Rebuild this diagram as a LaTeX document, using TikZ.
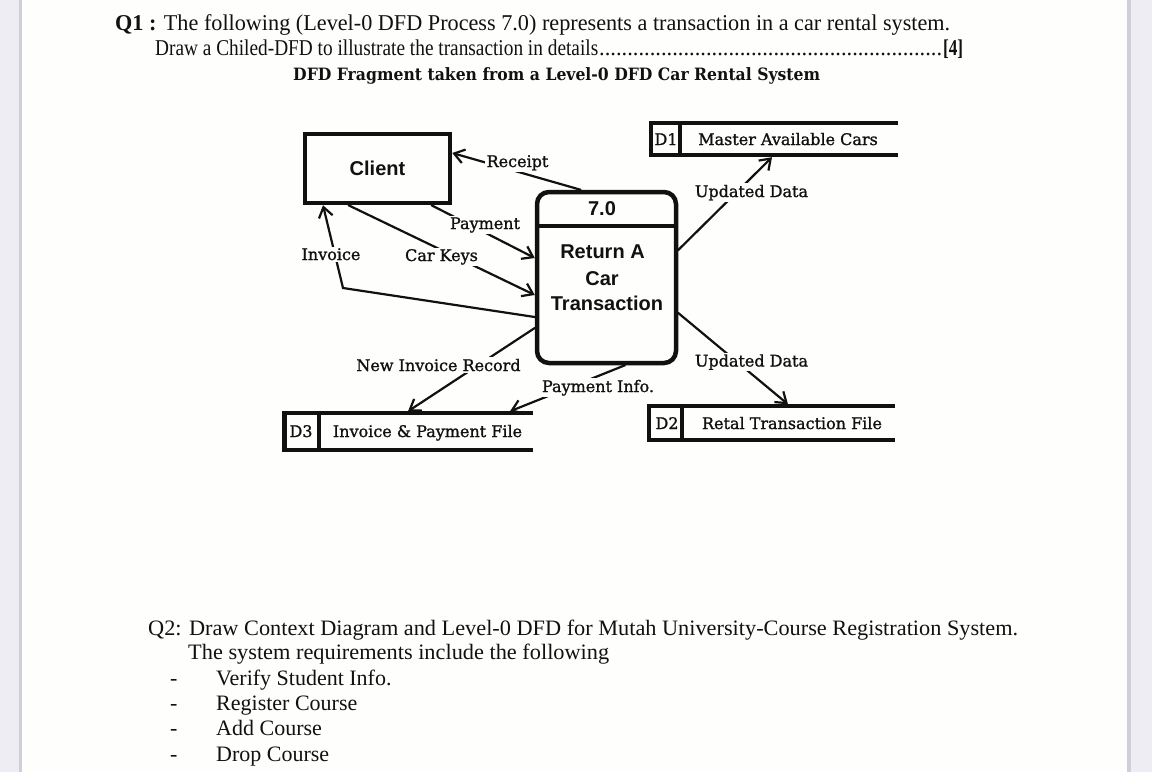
\documentclass[tikz,border=0pt]{standalone}
\usepackage{graphicx}
\usepackage{fontspec}
\setmainfont{Liberation Serif}
\setsansfont{Liberation Sans}
\newfontfamily\lblfont{DejaVu Serif}[FakeBold=1.2]
\newfontfamily\titlefont{DejaVu Serif}
\usetikzlibrary{arrows.meta,calc}
\definecolor{sidebg}{RGB}{238,237,244}
\definecolor{sideedge}{RGB}{208,206,216}
\definecolor{paper}{RGB}{254,254,252}
\definecolor{ink}{RGB}{17,17,17}
\newcommand\qfont{\fontsize{22.6}{25}\selectfont}
\newcommand\qtwofont{\fontsize{22}{25}\selectfont}
\newcommand\fitto[2]{\resizebox{#1}{\height}{#2}}
\begin{document}
\begin{tikzpicture}[x=1pt,y=-1pt,
  every node/.style={inner sep=0pt, text=ink},
  entity/.style={draw=ink, line width=4.5pt, minimum width=145pt, minimum height=69pt,
    font=\sffamily\bfseries\fontsize{20}{24}\selectfont},
  procbox/.style={draw=ink, line width=4.5pt, rounded corners=12pt,
    minimum width=139pt, minimum height=171pt},
  ptext/.style={anchor=base, font=\sffamily\bfseries\fontsize{20}{26}\selectfont},
  storeline/.style={draw=ink, line width=4.2pt},
  stxt/.style={anchor=base, font=\lblfont\fontsize{16}{18}\selectfont},
  flow/.style={draw=ink, line width=2.2pt, line cap=round,
    -{Straight Barb[length=10pt,width=14pt,line width=2.2pt]}},
  lbl/.style={anchor=base, font=\lblfont\fontsize{16}{18}\selectfont, fill=paper, inner sep=1.5pt},
  qtext/.style={anchor=base west, font=\qfont},
  qtwo/.style={anchor=base west, font=\qtwofont},
]
\useasboundingbox (0,0) rectangle (1152,772);
% page and side strips
\fill[paper] (0,0) rectangle (1152,772);
\fill[sidebg] (0,0) rectangle (22,772);
\fill[sideedge] (18.5,0) rectangle (22,772);
\fill[sidebg] (1130,0) rectangle (1152,772);
\fill[sideedge] (1127,0) rectangle (1131,772);

% ---------- Question 1 text ----------
\node[qtext] (q1a) at (115,30) {\fitto{835pt}{\textbf{Q1 :} The following (Level-0 DFD Process 7.0) represents a transaction in a car rental system.}};
\node[qtext] (q1b) at (155,55) {\fitto{443pt}{Draw a Chiled-DFD to illustrate the transaction in details}};
\node[qtext] (q1dots) at (599,55) {\fitto{343pt}{.............................................................}};
\node[qtext] (q1mark) at (943,55) {\fitto{20pt}{\textbf{[4]}}};
\node[anchor=base west] (q1c) at (293,80) {\fitto{527pt}{\titlefont\bfseries\fontsize{17}{20}\selectfont DFD Fragment taken from a Level-0 DFD Car Rental System}};

% ---------- Diagram ----------
\node[entity] (client) at (377.5,168.5) {Client};
\node[procbox] (proc) at (606.5,277.5) {};
\draw[ink, line width=3.5pt] (proc.west |- 0,226) -- (proc.east |- 0,226);
\node[ptext] (pid) at (602,215) {7.0};
\node[ptext] (pl1) at (602.5,258) {Return A};
\node[ptext] (pl2) at (602,285) {Car};
\node[ptext] (pl3) at (607,310) {Transaction};

% data stores
\node[minimum width=246.5pt, minimum height=31.5pt] (d1) at (774.75,139.25) {};
\draw[storeline] (d1.north east) -- (d1.north west) -- (d1.south west) -- (d1.south east);
\draw[storeline] ($(d1.north west)+(29,0)$) -- ($(d1.south west)+(29,0)$);
\node[stxt] (d1id) at (666,145) {D1};
\node[stxt] (d1name) at (788,145) {Master Available Cars};

\node[minimum width=245.5pt, minimum height=33.5pt] (d2) at (772.25,423.25) {};
\draw[storeline] (d2.north east) -- (d2.north west) -- (d2.south west) -- (d2.south east);
\draw[storeline] ($(d2.north west)+(33,0)$) -- ($(d2.south west)+(33,0)$);
\node[stxt] (d2id) at (667,429) {D2};
\node[stxt] (d2name) at (792,429) {Retal Transaction File};

\node[minimum width=248.5pt, minimum height=36.5pt] (d3) at (408.75,431.75) {};
\draw[storeline] (d3.north east) -- (d3.north west) -- (d3.south west) -- (d3.south east);
\draw[ink, line width=5.5pt] (d3.north west) -- (d3.south west);
\draw[storeline] ($(d3.north west)+(34.5,0)$) -- ($(d3.south west)+(34.5,0)$);
\node[stxt] (d3id) at (301,437) {D3};
\node[stxt] (d3name) at (427.5,437) {Invoice \& Payment File};

% flows
\coordinate (invbend) at (343,288);
\draw[flow] ($(proc.north)+(-26,0)$) -- ($(client.east)+(0,-15.5)$);
\draw[flow] ($(client.south)+(54,0)$) -- ($(proc.west)+(0,-19.5)$);
\draw[flow] ($(client.south)+(-29,0)$) -- ($(proc.west)+(0,17.5)$);
\draw[flow] ($(proc.west)+(0,39.5)$) -- (invbend) -- ($(client.south)+(-54.5,0)$);
\draw[flow] ($(proc.west)+(0,50.5)$) -- ($(d3.north)+(-0.75,-2)$);
\draw[flow] ($(proc.south)+(18.5,0)$) -- ($(d3.north)+(101.25,-2)$);
\draw[flow] ($(proc.east)+(0,-27.5)$) -- ($(d1.south)+(-2.75,2)$);
\draw[flow] ($(proc.east)+(0,35.5)$) -- ($(d2.north)+(15.75,-2)$);

% flow labels
\node[lbl] (lrc) at (517.5,167) {Receipt};
\node[lbl] (lpm) at (485,229) {Payment};
\node[lbl] (lck) at (441.5,261) {Car Keys};
\node[lbl] (liv) at (331,260) {Invoice};
\node[lbl] (lnir) at (438.5,371) {New Invoice Record};
\node[lbl] (lpi) at (598,392) {Payment Info.};
\node[lbl] (lud1) at (751.5,197) {Updated Data};
\node[lbl] (lud2) at (751.5,366.5) {Updated Data};

% ---------- Question 2 text ----------
\node[qtwo] (q2a) at (148,635) {\fitto{870pt}{Q2: Draw Context Diagram and Level-0 DFD for Mutah University-Course Registration System.}};
\node[qtwo] (q2b) at (188,659) {\fitto{421pt}{The system requirements include the following}};
\node[qtwo] (b1) at (170,685) {-};
\node[qtwo] (i1) at (216,685) {Verify Student Info.};
\node[qtwo] (b2) at (170,710) {-};
\node[qtwo] (i2) at (216,710) {Register Course};
\node[qtwo] (b3) at (170,735) {-};
\node[qtwo] (i3) at (216,735) {Add Course};
\node[qtwo] (b4) at (170,761) {-};
\node[qtwo] (i4) at (216,761) {Drop Course};
\end{tikzpicture}
\end{document}
